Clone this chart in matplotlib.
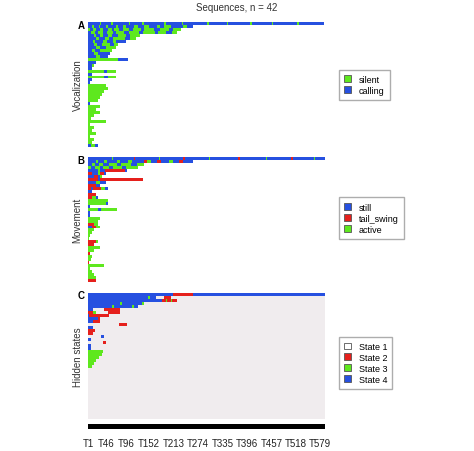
import matplotlib
matplotlib.use("Agg")
import matplotlib.pyplot as plt
from matplotlib.patches import Patch

plt.rcParams['font.family'] = ['Liberation Sans', 'DejaVu Sans']

GREEN = "#5ee81e"
BLUE = "#2650e0"
RED = "#e5201c"
GREY = "#f0ecee"

tick_labels = ["T1", "T46", "T96", "T152", "T213", "T274", "T335", "T396", "T457", "T518", "T579"]
tick_pos = [0, 45, 95, 151, 212, 273, 334, 395, 456, 517, 578]
seq_len = 590

# vocalization: c = calling, s = silent; runs "state+length", top row first
voc_rows = [
    "c30 s3 c25 s4 c40 s3 c30 s5 c50 s3 c40 s4 c60 s3 c45 s4 c55 s3 c50 s4 c60 s3 c62",
    "c10 s4 c12 s3 c15 s5 c20 s6 c12 s8 c20 s10 c15 s12 c20 s8 c10 s15 c30 s10 c15",
    "s5 c8 s6 c10 s8 c12 s10 c6 s12 c10 s15 c10 s20 c8 s25 c15 s20 c10 s20",
    "c6 s10 c8 s12 c10 s15 c8 s20 c12 s25 c10 s30 c8 s20 c14 s12",
    "c15 s5 c10 s8 c12 s10 c15 s20 c10 s25",
    "c20 s6 c15 s10 c10 s30 c12 s17",
    "c12 s5 c20 s10 c15 s8 c25",
    "c15 s8 c12 s20 c10 s10",
    "c20 s10 c15 s25",
    "c10 s8 c12 s30",
    "c15 s10 c30",
    "c20 s10 c20",
    "s75 c25",
    "c20",
    "c10 s5",
    "c10",
    "s40 c8 s22",
    "c10",
    "s40 c10 s20",
    "c10",
    "c5",
    "s45", "s50", "s40", "s35", "s30", "s25",
    "c5",
    "s30", "s20", "s30",
    "s15", "s8", "s45", "s5", "s15", "s10", "s20", "s5", "s15", "s10",
    "c8 s10 c7",
]

# movement: b = still, r = tail_swing, g = active
mov_rows = [
    "b60 g3 b50 r4 b60 g3 b55 r5 b60 g4 b70 r3 b65 g4 b60 r5 b50 g3 b26",
    "b20 g5 b15 g8 b25 g6 b20 g10 b30 r8 g10 b15 r10 b20 g8 b15 r12 b23",
    "b10 g6 b12 g8 b15 g20 b10 g25 b15 g17",
    "g8 b10 g12 b8 g15 b10 g20 b12 g30",
    "b25 g5 b12 r50 b5",
    "r10 b15 g5 r10 b5",
    "b15 r10 b5 g5",
    "r25 b5 r107",
    "b20 g10 b15",
    "r20 b10",
    "r8 b5 r20 g10 b7",
    "b10",
    "r20",
    "r10 g10 b5",
    "g50",
    "g45 b5",
    "b5",
    "g25 b8 g40",
    "b5", "b5",
    "g30", "g25",
    "r15 g10", "b10 r10 g10", "g15", "g10",
    "g5",
    "g3",
    "r20 g5", "r15",
    "g30", "g15", "r5", "g10", "g8", "r3", "g40",
    "g5", "g10", "g15", "g20",
    "r20",
]

# hidden states: 1 = State 1, which also fills the rest of every sequence
hid_rows = [
    "4212 248 4330",
    "4150 34 414 120 217",
    "4185 28 34 28 34 212",
    "480 34 450 34",
    "460 34 445 34 410",
    "412 128 240",
    "212 38 130 230",
    "43 248",
    "425 25",
    "413 217",
    "176 221",
    "413",
    "218",
    "213",
    "132 48",
    "46",
    "138 27",
    "46", "46",
    "338", "334", "328", "320", "314", "310",
]


def parse(row):
    out = []
    for tok in row.split():
        out.append((tok[0], int(tok[1:])))
    return out


voc_col = {"c": BLUE, "s": GREEN}
mov_col = {"b": BLUE, "r": RED, "g": GREEN}
hid_col = {"1": GREY, "2": RED, "3": GREEN, "4": BLUE}

fig = plt.figure(figsize=(4.74, 4.52), dpi=100)
axA = fig.add_axes([0.186, 0.673, 0.5, 0.276])
axB = fig.add_axes([0.186, 0.374, 0.5, 0.276])
axC = fig.add_axes([0.186, 0.071, 0.5, 0.279])
axT = fig.add_axes([0.186, 0.048, 0.5, 0.011])


def draw(ax, rows, cols, fill=None):
    n = 42
    if fill:
        ax.barh(range(n), [seq_len] * n, left=0, height=1.0, color=fill, linewidth=0)
    for i, runs in enumerate(rows):
        y = n - 1 - i
        x = 0
        for st, ln in runs:
            ax.barh(y, ln, left=x, height=1.0, color=cols[st], linewidth=0)
            x += ln
    ax.set_xlim(0, seq_len)
    ax.set_ylim(-0.5, n - 0.5)
    ax.set_xticks([])
    ax.set_yticks([])
    for s in ax.spines.values():
        s.set_visible(False)


draw(axA, [parse(r) for r in voc_rows], voc_col)
draw(axB, [parse(r) for r in mov_rows], mov_col)
draw(axC, [parse(r) for r in hid_rows], hid_col, fill=GREY)

axT.barh(0, seq_len, color="black", height=1)
axT.set_xlim(0, seq_len)
axT.set_ylim(-0.5, 0.5)
axT.set_yticks([])
axT.set_xticks(tick_pos)
axT.set_xticklabels(tick_labels, fontsize=7, color="#222222")
axT.tick_params(length=0, pad=6)
for s in axT.spines.values():
    s.set_visible(False)

fig.text(0.5, 0.982, "Sequences, n = 42", ha="center", va="center", fontsize=7, color="#333333")
for ax, letter, lab in [(axA, "A", "Vocalization"), (axB, "B", "Movement"), (axC, "C", "Hidden states")]:
    ax.text(-0.03, 0.98, letter, transform=ax.transAxes, fontsize=7, fontweight="bold", ha="center", va="center")
    ax.set_ylabel(lab, fontsize=7, color="#333333", labelpad=4)


def legend(labels, colors, y):
    handles = [Patch(facecolor=c, edgecolor="#555555", linewidth=0.6) for c in colors]
    fig.legend(handles, labels, loc="center left", bbox_to_anchor=(0.705, y), fontsize=6.5,
               frameon=True, fancybox=False, edgecolor="#999999", handlelength=0.8,
               handleheight=0.8, labelspacing=0.2, borderpad=0.6, handletextpad=0.8)


legend(["silent", "calling"], [GREEN, BLUE], 0.81)
legend(["still", "tail_swing", "active"], [BLUE, RED, GREEN], 0.515)
legend(["State 1", "State 2", "State 3", "State 4"], ["white", RED, GREEN, BLUE], 0.195)

fig.savefig("out.png", dpi=100)
